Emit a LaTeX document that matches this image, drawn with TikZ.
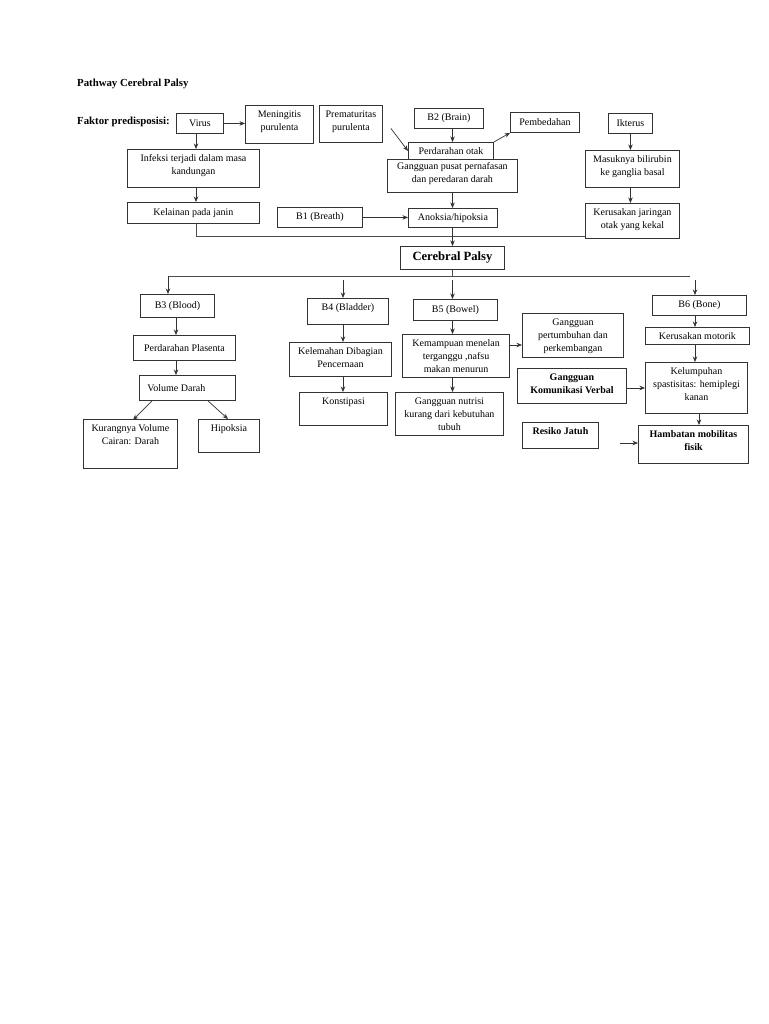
\documentclass[tikz,border=0pt]{standalone}
\usepackage{fontspec}
\setmainfont{Liberation Serif}
\usetikzlibrary{arrows.meta}
\newcommand{\bt}[3]{\parbox[c][#2pt][t]{#1pt}{\centering\rule{0pt}{12pt}#3}}
\newcommand{\bc}[3]{\parbox[c][#2pt][c]{#1pt}{\centering #3}}
\begin{document}
\begin{tikzpicture}[x=1pt,y=-1pt,
  bx/.style={draw=black!80,line width=0.9pt,inner sep=0pt,anchor=north west,font=\fontsize{10}{13}\selectfont},
  bbx/.style={bx,font=\fontsize{10}{13}\selectfont\bfseries},
  arr/.style={draw=black!80,line width=0.7pt,-{Stealth[length=5.5pt,width=4.5pt]}},
  ln/.style={draw=black!70,line width=0.7pt},
  lbl/.style={anchor=west,inner sep=0pt,font=\fontsize{10.8}{13}\selectfont\bfseries}]
\useasboundingbox (0,0) rectangle (768,1024);
\node[lbl] (title) at (77,84) {Pathway Cerebral Palsy};
\node[lbl] (faktor) at (77,122) {Faktor predisposisi:};
% top area
\node[bx] (virus) at (176,113) {\bc{47}{20}{Virus}};
\node[bx] (mening) at (245,105) {\bt{68}{38}{Meningitis\\purulenta}};
\node[bx] (premat) at (319,105) {\bt{63}{37}{Prematuritas\\purulenta}};
\node[bx] (b2) at (414,108) {\bc{69}{20}{B2 (Brain)}};
\node[bx] (pemb) at (510,112) {\bc{69}{20}{Pembedahan}};
\node[bx] (ikterus) at (608,113) {\bc{44}{20}{Ikterus}};
\node[bx] (infeksi) at (127,149) {\bt{132}{38}{Infeksi terjadi dalam masa\\kandungan}};
\node[bx] (ggpusat) at (387,159) {\parbox[c][33pt][t]{130pt}{\centering\rule{0pt}{10pt}Gangguan pusat pernafasan\\dan peredaran darah}};
\node[bx,fill=white] (perd) at (408,142) {\bc{85}{17}{Perdarahan otak}};
\node[bx] (masuk) at (585,150) {\bt{94}{37}{Masuknya bilirubin\\ke ganglia basal}};
\node[bx] (kelainan) at (127,202) {\bc{132}{21}{Kelainan pada janin}};
\node[bx] (b1) at (277,207) {\bc{85}{20}{B1 (Breath)}};
\node[bx] (anoks) at (408,208) {\bc{89}{19}{Anoksia/hipoksia}};
\node[bx] (kerjar) at (585,203) {\bt{94}{35}{Kerusakan jaringan\\otak yang kekal}};
\node[bx,font=\fontsize{12.6}{15}\selectfont\bfseries] (cp) at (400,246) {\bc{104}{23}{Cerebral Palsy}};
% lower area
\node[bx] (b3) at (140,294) {\bc{74}{23}{B3 (Blood)}};
\node[bx] (b4) at (307,298) {\bt{81}{26}{B4 (Bladder)}};
\node[bx] (b5) at (413,299) {\bc{84}{21}{B5 (Bowel)}};
\node[bx] (b6) at (652,295) {\bc{94}{20}{B6 (Bone)}};
\node[bx] (pp) at (133,335) {\bc{102}{25}{Perdarahan Plasenta}};
\node[bx] (kelem) at (289,342) {\bt{102}{34}{Kelemahan Dibagian\\Pencernaan}};
\node[bx,line width=1.2pt] (kemamp) at (402,334) {\bt{107}{43}{Kemampuan menelan\\terganggu ,nafsu\\makan menurun}};
\node[bx] (ggpert) at (522,313) {\bt{101}{44}{Gangguan\\pertumbuhan dan\\perkembangan}};
\node[bx] (kermot) at (645,327) {\bc{104}{17}{Kerusakan motorik}};
\node[bx] (vd) at (139,375) {\parbox[c][25pt][c]{96pt}{\hspace*{8pt}Volume Darah}};
\node[bbx] (ggkom) at (517,368) {\bt{109}{35}{Gangguan\\Komunikasi Verbal}};
\node[bx] (kelump) at (645,362) {\bt{102}{51}{Kelumpuhan\\spastisitas: hemiplegi\\kanan}};
\node[bx] (konst) at (299,392) {\bt{88}{33}{Konstipasi}};
\node[bx] (ggnut) at (395,392) {\bt{108}{43}{Gangguan nutrisi\\kurang dari kebutuhan\\tubuh}};
\node[bx] (kurang) at (83,419) {\bt{94}{49}{Kurangnya Volume\\Cairan: Darah}};
\node[bx] (hipok) at (198,419) {\bt{61}{33}{Hipoksia}};
\node[bbx] (resiko) at (522,422) {\bt{76}{26}{Resiko Jatuh}};
\node[bbx] (hamb) at (638,425) {\bt{110}{38}{Hambatan mobilitas\\fisik}};
% coordinates
\coordinate (hl) at (196,236);
\coordinate (hm) at (452.5,236);
\coordinate (cl) at (168,276);
\coordinate (cr) at (690,276);
\coordinate (cm) at (452.5,276);
% top connectors
\draw[arr] (virus.east) -- (mening.west |- virus.east);
\draw[arr] (virus.south -| hl) -- (infeksi.north -| hl);
\draw[arr] (infeksi.south -| hl) -- (kelainan.north -| hl);
\draw[ln] (kelainan.south -| hl) -- (hl) -- (kerjar.west |- hl);
\draw[arr] ([xshift=8pt,yshift=-4.5pt]premat.east) -- (perd.west);
\draw[arr] (perd.north east) -- (pemb.south west);
\draw[arr] (b2.south -| hm) -- (perd.north -| hm);
\draw[arr] (ggpusat.south -| hm) -- (anoks.north -| hm);
\draw[arr] (b1.east) -- (anoks.west |- b1.east);
\draw[arr] (ikterus.south) -- (masuk.north -| ikterus.south);
\draw[arr] (masuk.south -| ikterus.south) -- (kerjar.north -| ikterus.south);
\draw[arr] (anoks.south -| hm) -- (cp.north -| hm);
% cerebral palsy branches
\draw[ln] (cp.south -| cm) -- (cm);
\draw[ln] (cr) -- (cl);
\draw[arr] (cl) -- (b3.north -| cl);
\draw[arr] (343,280) -- (b4.north -| 343,0);
\draw[arr] (cm |- 0,280) -- (b5.north -| cm);
\draw[arr] (695,280) -- (b6.north -| 695,0);
% B3
\draw[arr] (b3.south -| 176,0) -- (pp.north -| 176,0);
\draw[arr] (pp.south -| 176,0) -- (vd.north -| 176,0);
\draw[arr] (vd.south -| 152,0) -- (133,420);
\draw[arr] (vd.south -| 208,0) -- (228,419);
% B4
\draw[arr] (b4.south -| 343,0) -- (kelem.north -| 343,0);
\draw[arr] (kelem.south -| 343,0) -- (konst.north -| 343,0);
% B5
\draw[arr] (b5.south -| cm) -- (kemamp.north -| cm);
\draw[arr] (kemamp.south -| cm) -- (ggnut.north -| cm);
\draw[arr] (kemamp.east |- 0,345) -- (ggpert.west |- 0,345);
% B6
\draw[arr] (b6.south -| 695,0) -- (kermot.north -| 695,0);
\draw[arr] (kermot.south -| 695,0) -- (kelump.north -| 695,0);
\draw[arr] (kelump.south -| 699,0) -- (hamb.north -| 699,0);
\draw[arr] (ggkom.east |- 0,388) -- (kelump.west |- 0,388);
\draw[arr] (620,443) -- (hamb.west |- 0,443);
\end{tikzpicture}
\end{document}
